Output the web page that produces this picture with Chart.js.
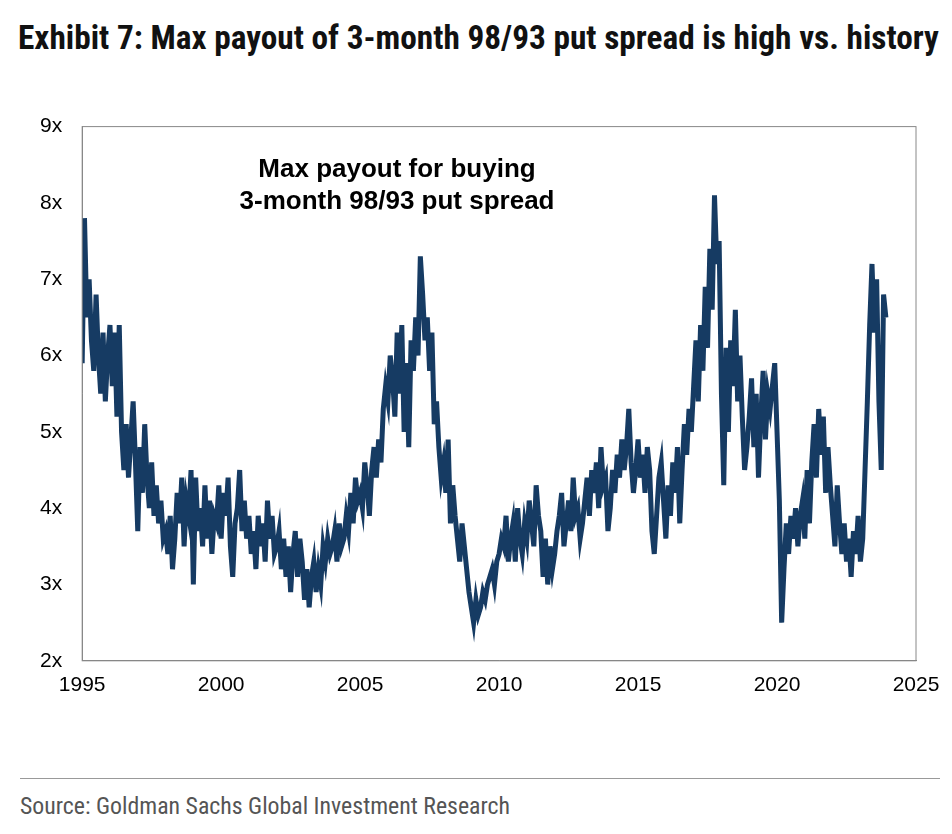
<!DOCTYPE html>
<html><head><meta charset="utf-8">
<script src="https://cdn.jsdelivr.net/npm/chart.js@4"></script>
<style>
body{margin:0;width:952px;height:834px;background:#fff;position:relative;font-family:"Liberation Sans",Arial,sans-serif;overflow:hidden}
#title{position:absolute;left:18px;top:18px;font-family:"Liberation Sans Narrow","Roboto Condensed","Liberation Sans",Arial;font-weight:bold;font-size:33.3px;color:#111;white-space:nowrap}
#ann{position:absolute;left:147px;top:152px;width:500px;text-align:center;font-weight:bold;font-size:26px;line-height:32px;color:#000}
#rule{position:absolute;left:20px;top:778px;width:920px;border-top:1px solid #999}
#src{position:absolute;left:20px;top:792px;font-family:"Liberation Sans Narrow","Roboto Condensed","Liberation Sans",Arial;font-size:23.8px;color:#555}
#wrap{position:absolute;left:0;top:94px;width:952px;height:616px}
</style></head><body>
<div id="title">Exhibit 7: Max payout of 3-month 98/93 put spread is high vs. history</div>
<div id="wrap"><canvas id="c"></canvas></div>
<div id="ann">Max payout for buying<br>3-month 98/93 put spread</div>
<div id="rule"></div>
<div id="src">Source: Goldman Sachs Global Investment Research</div>
<script>
const startYear = 1995;
const monthlyValues = [
5.9,7.8,6.5,7.0,6.2,5.8,6.8,6.0,5.5,6.3,5.4,6.0,
6.4,5.6,6.3,5.2,6.4,5.0,4.5,5.1,4.4,4.9,5.4,4.6,
3.7,4.8,4.2,5.1,4.4,4.0,4.6,3.9,4.3,3.8,4.1,3.6,
3.7,3.4,3.9,3.2,3.6,4.2,3.8,4.4,3.5,4.1,3.9,4.5,
3.0,4.4,3.7,4.0,3.5,4.3,3.6,4.1,3.4,3.9,3.8,4.3,
3.6,4.2,3.9,4.4,3.5,3.1,3.8,4.0,4.5,3.7,4.1,3.6,
3.9,3.4,3.7,3.2,3.9,3.5,3.8,3.3,4.1,3.6,3.9,3.4,
3.5,3.7,3.2,3.6,3.1,3.5,2.9,3.4,3.7,3.1,3.6,3.3,
2.8,3.2,2.7,3.1,3.3,2.9,3.2,3.0,3.5,3.3,3.6,3.4,
3.5,3.7,3.3,3.8,3.5,3.6,3.9,3.7,4.2,3.8,4.4,4.1,
4.2,4.0,4.6,4.3,3.9,4.5,4.8,4.4,4.9,4.6,5.3,5.6,
5.4,6.0,5.7,5.2,6.3,5.5,6.4,5.0,5.9,4.8,6.2,5.8,
6.5,6.0,7.3,6.8,6.2,6.5,5.8,6.3,5.1,5.4,4.8,4.4,
4.6,4.2,4.9,3.8,4.3,3.9,3.6,3.3,3.8,3.5,3.2,2.9,
2.7,2.5,2.8,2.6,2.7,2.9,2.8,3.0,3.1,3.2,3.0,3.3,
3.4,3.6,3.5,3.9,3.3,3.6,3.8,3.3,4.0,3.6,3.4,3.8,
3.6,4.1,3.8,3.5,4.3,3.9,3.7,3.1,3.6,3.0,3.5,3.2,
3.4,3.7,3.9,4.2,3.5,3.8,4.1,3.7,4.4,3.9,4.0,3.6,
3.8,4.1,4.4,3.9,4.5,4.2,4.6,4.0,4.8,4.3,4.4,3.7,
4.0,4.5,4.2,4.7,4.4,4.9,4.5,4.8,5.3,4.6,4.2,4.5,
4.9,4.4,4.7,4.2,4.8,4.5,3.7,3.4,3.9,4.4,4.6,4.1,
3.6,4.3,3.9,4.6,4.2,4.8,3.8,4.5,5.1,4.7,5.3,5.0,
5.6,6.2,5.4,6.4,5.8,6.9,6.1,7.4,6.6,8.1,7.2,7.5,
5.5,4.3,6.1,5.0,6.2,5.6,6.6,5.4,6.0,5.2,4.5,4.8,
5.2,5.7,4.8,5.5,4.4,5.2,5.8,4.9,5.5,5.3,5.6,5.9,
5.0,4.1,2.5,3.2,3.8,3.4,3.9,3.6,4.0,3.5,3.9,4.1,
3.6,4.5,3.8,4.6,5.1,4.4,5.3,4.7,5.2,4.2,4.8,4.3,
3.9,3.5,4.3,3.8,3.4,3.8,3.3,3.6,3.1,3.7,3.4,3.9,
3.3,3.6,4.5,5.4,6.4,7.2,6.3,7.0,5.4,4.5,6.8,6.5
];
const xTicks = [1995,2000,2005,2010,2015,2020,2025];
const yTicks = [2,3,4,5,6,7,8,9];

const points = monthlyValues.map((v,i)=>({x:startYear+i/12, y:v}));
const frame = {id:'frame',afterDraw(c){const a=c.chartArea,g=c.ctx;g.save();g.strokeStyle='#888';g.lineWidth=1;g.strokeRect(a.left,a.top,a.right-a.left,a.bottom-a.top);g.restore();}};
new Chart(document.getElementById('c'),{
 type:'line',
 data:{datasets:[{data:points,borderColor:'#163b63',borderWidth:5,pointRadius:0,tension:0}]},
 options:{responsive:true,maintainAspectRatio:false,animation:false,
  layout:{padding:{left:20,right:36,top:5,bottom:0}},
  plugins:{legend:{display:false},tooltip:{enabled:false}},
  scales:{
   x:{type:'linear',min:1995,max:2025,afterBuildTicks(s){s.ticks=xTicks.map(v=>({value:v}));},
      grid:{display:false,drawTicks:false},border:{color:'#888'},
      ticks:{color:'#000',font:{size:21,family:'Liberation Sans'},padding:12,maxRotation:0,callback:v=>String(v)}},
   y:{min:2,max:9,afterBuildTicks(s){s.ticks=yTicks.map(v=>({value:v}));},
      grid:{display:false,drawTicks:false},border:{color:'#888'},
      ticks:{color:'#000',font:{size:21,family:'Liberation Sans'},padding:20,callback:v=>v+'x'}}
  }},
 plugins:[frame]
});
</script></body></html>
